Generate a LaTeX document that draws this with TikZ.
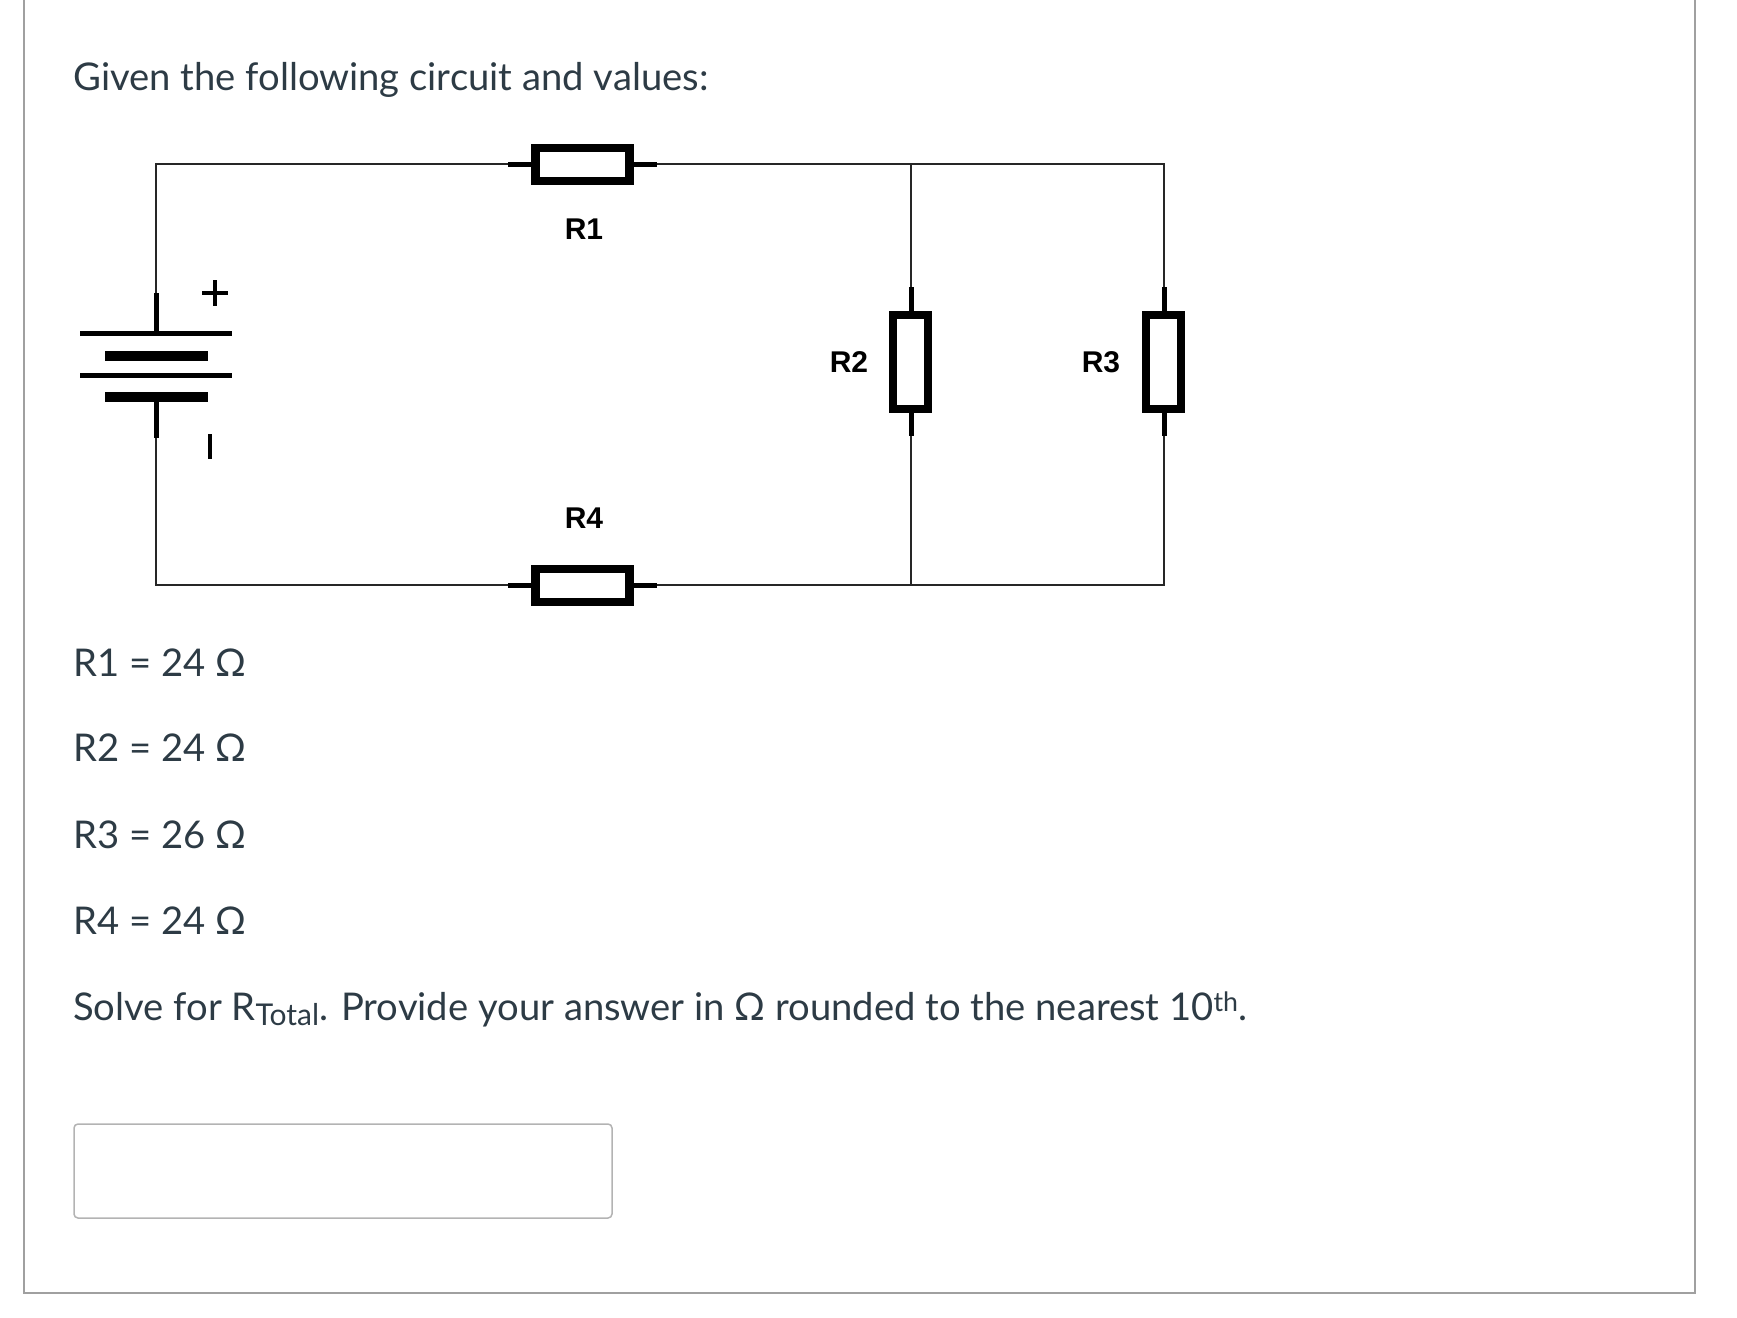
\documentclass[tikz,border=0pt]{standalone}
\usepackage{fontspec}
\setmainfont{Lato}
\newfontfamily\lbl{Liberation Sans}
\definecolor{txt}{HTML}{2D3B45}
\definecolor{frame}{HTML}{A0A0A0}
\begin{document}
\begin{tikzpicture}[x=1pt,y=-1pt,
  wire/.style={line width=2pt,black!85},
  res/.style={draw=black,line width=8.5pt,fill=white,inner sep=0pt},
  lead/.style={line width=5pt},
  rlab/.style={font=\lbl\bfseries\fontsize{30}{33}\selectfont,inner sep=0pt},
  body/.style={font=\fontsize{38.2}{44}\selectfont,text=txt,anchor=west,inner sep=0pt}]
\useasboundingbox (0,0) rectangle (1737,1317);
\draw[frame,line width=2pt] (24,0) -- (24,1293) -- (1695,1293) -- (1695,0);
\node[body] (t0) at (73,80) {Given the following circuit and values:};
% coordinates
\coordinate (tl) at (156,164);
\coordinate (bl) at (156,585);
\coordinate (tj) at (911,164);
\coordinate (bj) at (911,585);
\coordinate (tr) at (1164,164);
\coordinate (br) at (1164,585);
\coordinate (bt) at (156,293);
\coordinate (bb) at (156,438);
% wires
\draw[wire] (bt) -- (tl) -- (tr) -- (br) -- (bl) -- (bb);
\draw[wire] (tj) -- (bj);
% resistors
\draw[lead] (508,164) -- (657,164);
\draw[lead] (508,585) -- (657,585);
\draw[lead] (911,287) -- (911,436);
\draw[lead] (1164,287) -- (1164,436);
\node[res,minimum width=94pt,minimum height=33pt] (r1) at (582.5,164.5) {};
\node[res,minimum width=94pt,minimum height=33pt] (r4) at (582.5,585.5) {};
\node[res,minimum width=35pt,minimum height=94pt] (r2) at (910.5,362) {};
\node[res,minimum width=35pt,minimum height=94pt] (r3) at (1163.5,362) {};
\node[rlab] (l1) at (584,229) {R1};
\node[rlab] (l4) at (584,518) {R4};
\node[rlab] (l2) at (849,362) {R2};
\node[rlab] (l3) at (1101,362) {R3};
% battery
\draw[line width=5pt] (bt) -- (156,333);
\draw[line width=5pt] (156,397) -- (bb);
\draw[line width=5pt] (80,333) -- (232,333);
\draw[line width=10pt] (105,356) -- (208,356);
\draw[line width=5pt] (80,375) -- (232,375);
\draw[line width=10pt] (105,397) -- (208,397);
\draw[line width=4.5pt] (202,293) -- (228,293) (215,280) -- (215,306);
\draw[line width=4.5pt] (210,434) -- (210,459);
% values
\node[body] (v1) at (73,663) {R1 = 24 Ω};
\node[body] (v2) at (73,748) {R2 = 24 Ω};
\node[body] (v3) at (73,835) {R3 = 26 Ω};
\node[body] (v4) at (73,921) {R4 = 24 Ω};
\node[body] (q) at (73,1009) {Solve for R\raisebox{-0.3ex}{\fontsize{30}{33}\selectfont Total}. Provide your answer in Ω rounded to the nearest 10\textsuperscript{th}.};
\draw[frame!80,line width=1.5pt,rounded corners=4pt] (74,1124) rectangle (612,1218);
\end{tikzpicture}
\end{document}
